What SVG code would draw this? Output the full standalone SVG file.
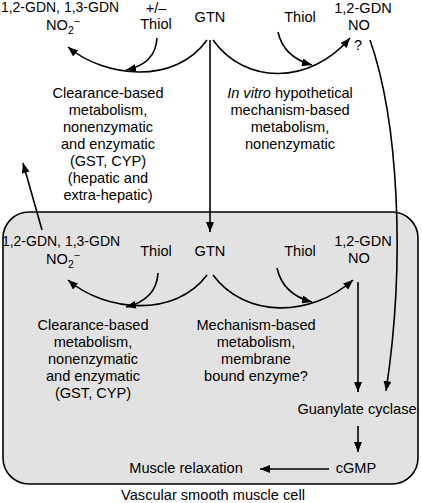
<svg xmlns="http://www.w3.org/2000/svg" width="422" height="503" viewBox="0 0 422 503">
<defs>
<marker id="ah" viewBox="0 0 10 8" refX="10" refY="4" markerWidth="10" markerHeight="8" markerUnits="userSpaceOnUse" orient="auto">
<path d="M0,0 L10,4 L0,8 Z" fill="#000"/>
</marker>
<style>
text{font-family:"Liberation Sans",Arial,sans-serif;font-size:14.6px;fill:#000;text-anchor:middle}
.sub{font-size:10.5px}
.p{font-size:14px}
.c path,.c line{fill:none;stroke:#000;stroke-width:1.6;marker-end:url(#ah)}
.cell{fill:#e2e2e2;stroke:#000;stroke-width:1.6}
</style>
</defs>
<rect width="422" height="503" fill="#fff"/>
<g id="cell">
<rect class="cell" x="3" y="212" width="415" height="272" rx="26" ry="26"/>
<text x="213" y="500">Vascular smooth muscle cell</text>
</g>
<g id="top-products-left">
<text class="p" x="60" y="12">1,2-GDN, 1,3-GDN</text>
<text x="63" y="30">NO<tspan class="sub" dy="4">2</tspan><tspan class="sub" dy="-9">−</tspan></text>
</g>
<g id="top-thiol-left">
<text x="156" y="13">+/–</text>
<text x="156" y="29">Thiol</text>
</g>
<g id="top-gtn"><text x="210" y="22">GTN</text></g>
<g id="top-thiol-right"><text x="300" y="22">Thiol</text></g>
<g id="top-products-right">
<text x="363" y="13">1,2-GDN</text>
<text x="359" y="30">NO</text>
<text x="358" y="50">?</text>
</g>
<g id="top-clearance">
<text x="108" y="98">Clearance-based</text>
<text x="108" y="115">metabolism,</text>
<text x="108" y="132">nonenzymatic</text>
<text x="108" y="149">and enzymatic</text>
<text x="108" y="166">(GST, CYP)</text>
<text x="108" y="183">(hepatic and</text>
<text x="108" y="200">extra-hepatic)</text>
</g>
<g id="top-invitro">
<text x="290" y="98"><tspan font-style="italic">In vitro</tspan> hypothetical</text>
<text x="290" y="115">mechanism-based</text>
<text x="290" y="132">metabolism,</text>
<text x="290" y="149">nonenzymatic</text>
</g>
<g id="cell-products-left">
<text class="p" x="61" y="246">1,2-GDN, 1,3-GDN</text>
<text x="63" y="264">NO<tspan class="sub" dy="4">2</tspan><tspan class="sub" dy="-9">−</tspan></text>
</g>
<g id="cell-thiol-left"><text x="156" y="256">Thiol</text></g>
<g id="cell-gtn"><text x="210" y="256">GTN</text></g>
<g id="cell-thiol-right"><text x="300" y="256">Thiol</text></g>
<g id="cell-products-right">
<text x="363" y="246">1,2-GDN</text>
<text x="359" y="263">NO</text>
</g>
<g id="cell-clearance">
<text x="93" y="330">Clearance-based</text>
<text x="93" y="347">metabolism,</text>
<text x="93" y="364">nonenzymatic</text>
<text x="93" y="381">and enzymatic</text>
<text x="93" y="398">(GST, CYP)</text>
</g>
<g id="cell-mechanism">
<text x="256" y="330">Mechanism-based</text>
<text x="256" y="347">metabolism,</text>
<text x="256" y="364">membrane</text>
<text x="256" y="381">bound enzyme?</text>
</g>
<g id="guanylate"><text x="357" y="414">Guanylate cyclase</text></g>
<g id="cgmp"><text x="356" y="473">cGMP</text></g>
<g id="relaxation"><text x="186" y="473">Muscle relaxation</text></g>
<g id="connectors" class="c">
<path d="M207,40 C175,85 105,78 68,47"/>
<path d="M157,38 C156,56 146,66 126,70"/>
<path d="M213,40 C245,85 310,85 350,38"/>
<path d="M278,32 C282,50 294,60 312,65"/>
<path d="M370,40 C398,120 406,260 386,391"/>
<line x1="210" y1="40" x2="210" y2="232"/>
<line x1="42" y1="230" x2="23" y2="163"/>
<path d="M207,275 C175,318 105,312 68,280"/>
<path d="M158,273 C157,291 147,302 126,307"/>
<path d="M213,275 C245,318 310,318 353,280"/>
<path d="M277,268 C281,286 293,297 312,302"/>
<line x1="358" y1="282" x2="358" y2="392"/>
<line x1="358" y1="426" x2="358" y2="452"/>
<line x1="329" y1="469" x2="260" y2="469"/>
</g>
</svg>
